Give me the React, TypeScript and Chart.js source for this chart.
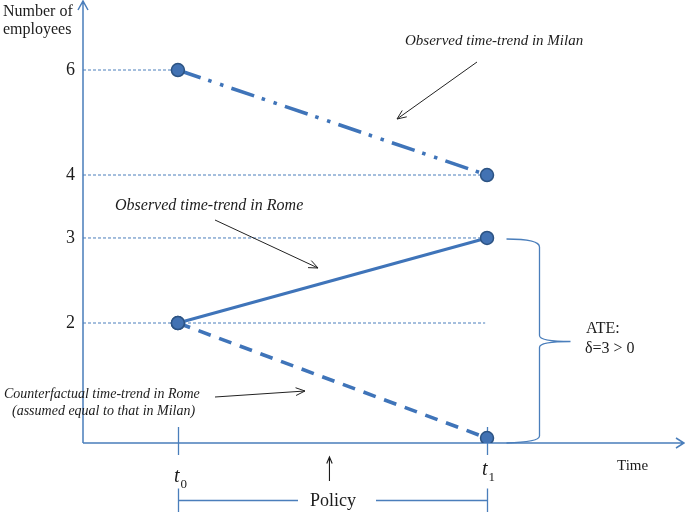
import React, { useEffect, useRef } from 'react';
import { Chart, registerables, LinearScale } from 'chart.js';

Chart.register(...registerables);

// ---- data ----
const periodX = [0, 1];
const periodSubscripts = ['0', '1'];
const milan = [6, 4];
const rome = [2, 3];
const counterfactual = [2, 0];
const yTickValues = [2, 3, 4, 6];
const yAxisTitle = ['Number of', 'employees'];
const xAxisTitle = 'Time';
const policyLabel = 'Policy';
const milanNote = 'Observed time-trend in Milan';
const romeNote = 'Observed time-trend in Rome';
const cfNote = ['Counterfactual time-trend in Rome', '(assumed equal to that in Milan)'];
const ateValue = rome[1] - counterfactual[1];

// non-uniform (hand-drawn) vertical axis: value -> fraction of axis height
const yStops = [
  [-0.1, 0],
  [0, 0.0113],
  [2, 0.2721],
  [3, 0.4649],
  [4, 0.6077],
  [6, 0.8458],
  [8, 1],
];

class PiecewiseScale extends LinearScale {
  static id = 'piecewise';
  static defaults = {};
  fracFor(value: number) {
    const s = yStops;
    if (value <= s[0][0]) return s[0][1];
    if (value >= s[s.length - 1][0]) return s[s.length - 1][1];
    for (let i = 1; i < s.length; i++) {
      if (value <= s[i][0]) {
        const [v0, f0] = s[i - 1];
        const [v1, f1] = s[i];
        return f0 + ((value - v0) / (v1 - v0)) * (f1 - f0);
      }
    }
    return 1;
  }
  getPixelForValue(value: number) {
    const f = this.fracFor(value);
    return this.bottom - f * (this.bottom - this.top);
  }
  getValueForPixel(pixel: number) {
    const f = (this.bottom - pixel) / (this.bottom - this.top);
    const s = yStops;
    for (let i = 1; i < s.length; i++) {
      if (f <= s[i][1]) {
        const [v0, f0] = s[i - 1];
        const [v1, f1] = s[i];
        return v0 + ((f - f0) / (f1 - f0)) * (v1 - v0);
      }
    }
    return s[s.length - 1][0];
  }
}
Chart.register(PiecewiseScale as any);

const BLUE = '#4a7ebb';
const LINE = '#3f74b9';
const PT_FILL = '#4272b3';
const PT_BORDER = '#2c5383';
const INK = '#1c1c1c';
const SERIF = '"Liberation Serif", "DejaVu Serif", serif';
const X_MIN = -0.307;
const X_MAX = 1.634;

function arrow(ctx: CanvasRenderingContext2D, x1: number, y1: number, x2: number, y2: number, head = 9) {
  ctx.beginPath();
  ctx.moveTo(x1, y1);
  ctx.lineTo(x2, y2);
  const a = Math.atan2(y2 - y1, x2 - x1);
  ctx.moveTo(x2 - head * Math.cos(a - 0.4), y2 - head * Math.sin(a - 0.4));
  ctx.lineTo(x2, y2);
  ctx.lineTo(x2 - head * Math.cos(a + 0.4), y2 - head * Math.sin(a + 0.4));
  ctx.stroke();
}

const diagramPlugin = {
  id: 'diagram',
  beforeDatasetsDraw(chart: any) {
    const { ctx, chartArea, scales } = chart;
    const xs = scales.x;
    const ys = scales.y;
    const L = chartArea.left;
    const B = chartArea.bottom;
    ctx.save();
    ctx.strokeStyle = BLUE;
    ctx.lineWidth = 1.5;
    // y axis with arrow
    ctx.beginPath();
    ctx.moveTo(L, B);
    ctx.lineTo(L, chartArea.top - 1);
    ctx.moveTo(L - 5, chartArea.top + 8);
    ctx.lineTo(L, chartArea.top - 1);
    ctx.lineTo(L + 5, chartArea.top + 8);
    ctx.stroke();
    // x axis with arrow
    ctx.beginPath();
    ctx.moveTo(L, B);
    ctx.lineTo(chartArea.right + 1, B);
    ctx.moveTo(chartArea.right - 7, B - 5);
    ctx.lineTo(chartArea.right + 1, B);
    ctx.lineTo(chartArea.right - 7, B + 5);
    ctx.stroke();
    // period ticks
    ctx.lineWidth = 1.3;
    periodX.forEach((v) => {
      const px = Math.round(xs.getPixelForValue(v)) + 0.5;
      ctx.beginPath();
      ctx.moveTo(px, B - 16);
      ctx.lineTo(px, B + 12);
      ctx.stroke();
    });
    // policy bracket
    const x0 = Math.round(xs.getPixelForValue(periodX[0])) + 0.5;
    const x1 = Math.round(xs.getPixelForValue(periodX[1])) + 0.5;
    const cx = (x0 + x1) / 2;
    const py = 500.5;
    ctx.beginPath();
    ctx.moveTo(x0, py);
    ctx.lineTo(cx - 35, py);
    ctx.moveTo(cx + 43, py);
    ctx.lineTo(x1, py);
    ctx.moveTo(x0, py - 12);
    ctx.lineTo(x0, py + 14);
    ctx.moveTo(x1, py - 12);
    ctx.lineTo(x1, py + 14);
    ctx.stroke();
    // brace for ATE
    const yTop = ys.getPixelForValue(rome[1]) + 1;
    const yBot = B - 1;
    const bx0 = x1 + 19;
    const bx = x1 + 52;
    const tipX = x1 + 83;
    const mid = (yTop + yBot) / 2 + 1;
    ctx.beginPath();
    ctx.moveTo(bx0, yTop);
    ctx.quadraticCurveTo(bx, yTop, bx, yTop + 8);
    ctx.lineTo(bx, mid - 6);
    ctx.quadraticCurveTo(bx, mid, tipX, mid);
    ctx.quadraticCurveTo(bx, mid, bx, mid + 6);
    ctx.lineTo(bx, yBot - 6);
    ctx.quadraticCurveTo(bx, yBot, bx0, yBot + 1);
    ctx.stroke();
    ctx.restore();
  },
  afterDatasetsDraw(chart: any) {
    const { ctx, scales } = chart;
    const xs = scales.x;
    const x0 = xs.getPixelForValue(periodX[0]);
    const x1 = xs.getPixelForValue(periodX[1]);
    ctx.save();
    ctx.fillStyle = INK;
    ctx.textBaseline = 'alphabetic';
    ctx.textAlign = 'left';
    // y axis title
    ctx.font = `16px ${SERIF}`;
    ctx.fillText(yAxisTitle[0], 3, 16);
    ctx.fillText(yAxisTitle[1], 3, 34);
    // x axis title
    ctx.font = `15px ${SERIF}`;
    ctx.fillText(xAxisTitle, 617, 470);
    // period labels t0, t1
    const tPos = [
      [x0 - 4, 482],
      [x1 - 5, 475],
    ];
    periodSubscripts.forEach((sub, i) => {
      const [tx, ty] = tPos[i];
      ctx.font = `italic 20px ${SERIF}`;
      ctx.fillText('t', tx, ty);
      const w = ctx.measureText('t').width;
      ctx.font = `13px ${SERIF}`;
      ctx.fillText(sub, tx + w + 1, ty + 6);
    });
    // policy
    const cx = (x0 + x1) / 2;
    ctx.font = `18px ${SERIF}`;
    ctx.textAlign = 'center';
    ctx.fillText(policyLabel, cx + 0.5, 506);
    ctx.strokeStyle = INK;
    ctx.lineWidth = 1.1;
    arrow(ctx, cx - 3, 481, cx - 3, 457, 7);
    // ATE text
    ctx.textAlign = 'left';
    ctx.font = `16px ${SERIF}`;
    ctx.fillText('ATE:', 586, 333);
    ctx.fillText(`\u03B4=${ateValue} > 0`, 585, 353);
    // notes
    ctx.font = `italic 15px ${SERIF}`;
    ctx.fillText(milanNote, 405, 45);
    ctx.font = `italic 16px ${SERIF}`;
    ctx.fillText(romeNote, 115, 210);
    ctx.font = `italic 14px ${SERIF}`;
    ctx.fillText(cfNote[0], 4, 398);
    ctx.fillText(cfNote[1], 12, 415);
    // note arrows
    ctx.strokeStyle = '#222';
    ctx.lineWidth = 1;
    arrow(ctx, 477, 62, 397, 119, 10);
    arrow(ctx, 215, 220, 318, 268, 10);
    arrow(ctx, 215, 397, 305, 391, 10);
    ctx.restore();
  },
};

export default function App() {
  const ref = useRef<HTMLCanvasElement | null>(null);
  useEffect(() => {
    if (!ref.current) return;
    const pt = (xs: number[], ys: number[]) => xs.map((x, i) => ({ x, y: ys[i] }));
    const guide = (xEnd: number, y: number) => [
      { x: X_MIN, y },
      { x: xEnd, y },
    ];
    const guideStyle = {
      borderColor: BLUE,
      borderWidth: 1,
      borderDash: [3, 2],
      pointRadius: 0,
      fill: false,
    };
    const pointStyle = {
      pointRadius: 6.5,
      pointHoverRadius: 6.5,
      pointBackgroundColor: PT_FILL,
      pointBorderColor: PT_BORDER,
      pointBorderWidth: 1.5,
      borderColor: LINE,
      fill: false,
    };
    const chart = new Chart(ref.current, {
      type: 'line',
      data: {
        datasets: [
          { label: 'Milan', data: pt(periodX, milan), borderWidth: 3.6, borderDash: [24, 8, 3.5, 9, 3.5, 8.5], borderCapStyle: 'butt', ...pointStyle },
          { label: 'Rome', data: pt(periodX, rome), borderWidth: 3, ...pointStyle },
          { label: 'Counterfactual Rome', data: pt(periodX, counterfactual), borderWidth: 3.6, borderDash: [13, 9], borderCapStyle: 'butt', ...pointStyle },
          { label: 'g6', data: guide(periodX[0], milan[0]), ...guideStyle },
          { label: 'g4', data: guide(periodX[1], milan[1]), ...guideStyle },
          { label: 'g3', data: guide(periodX[1], rome[1]), ...guideStyle },
          { label: 'g2', data: guide(periodX[1] - 0.006, rome[0]), ...guideStyle },
        ],
      } as any,
      options: {
        animation: false,
        responsive: false,
        devicePixelRatio: 1,
        events: [],
        layout: { autoPadding: false, padding: { top: 2, right: 2, bottom: 69, left: 0 } },
        plugins: { legend: { display: false }, tooltip: { enabled: false } },
        scales: {
          x: { type: 'linear', min: X_MIN, max: X_MAX, display: false },
          y: {
            type: 'piecewise',
            min: -0.1,
            max: 8,
            grid: { display: false, drawTicks: false },
            border: { display: false },
            ticks: {
              autoSkip: false,
              padding: 8,
              color: INK,
              font: { family: SERIF, size: 18 },
            },
            afterBuildTicks: (s: any) => {
              s.ticks = yTickValues.map((v) => ({ value: v }));
            },
            afterFit: (s: any) => {
              s.width = 83;
              s.paddingTop = 0;
              s.paddingBottom = 0;
            },
          },
        } as any,
      },
      plugins: [diagramPlugin],
    } as any);
    return () => chart.destroy();
  }, []);
  return (
    <div style={{ position: 'fixed', left: 0, top: 0, width: 685, height: 512, background: '#fff' }}>
      <canvas ref={ref} width={685} height={512} />
    </div>
  );
}
